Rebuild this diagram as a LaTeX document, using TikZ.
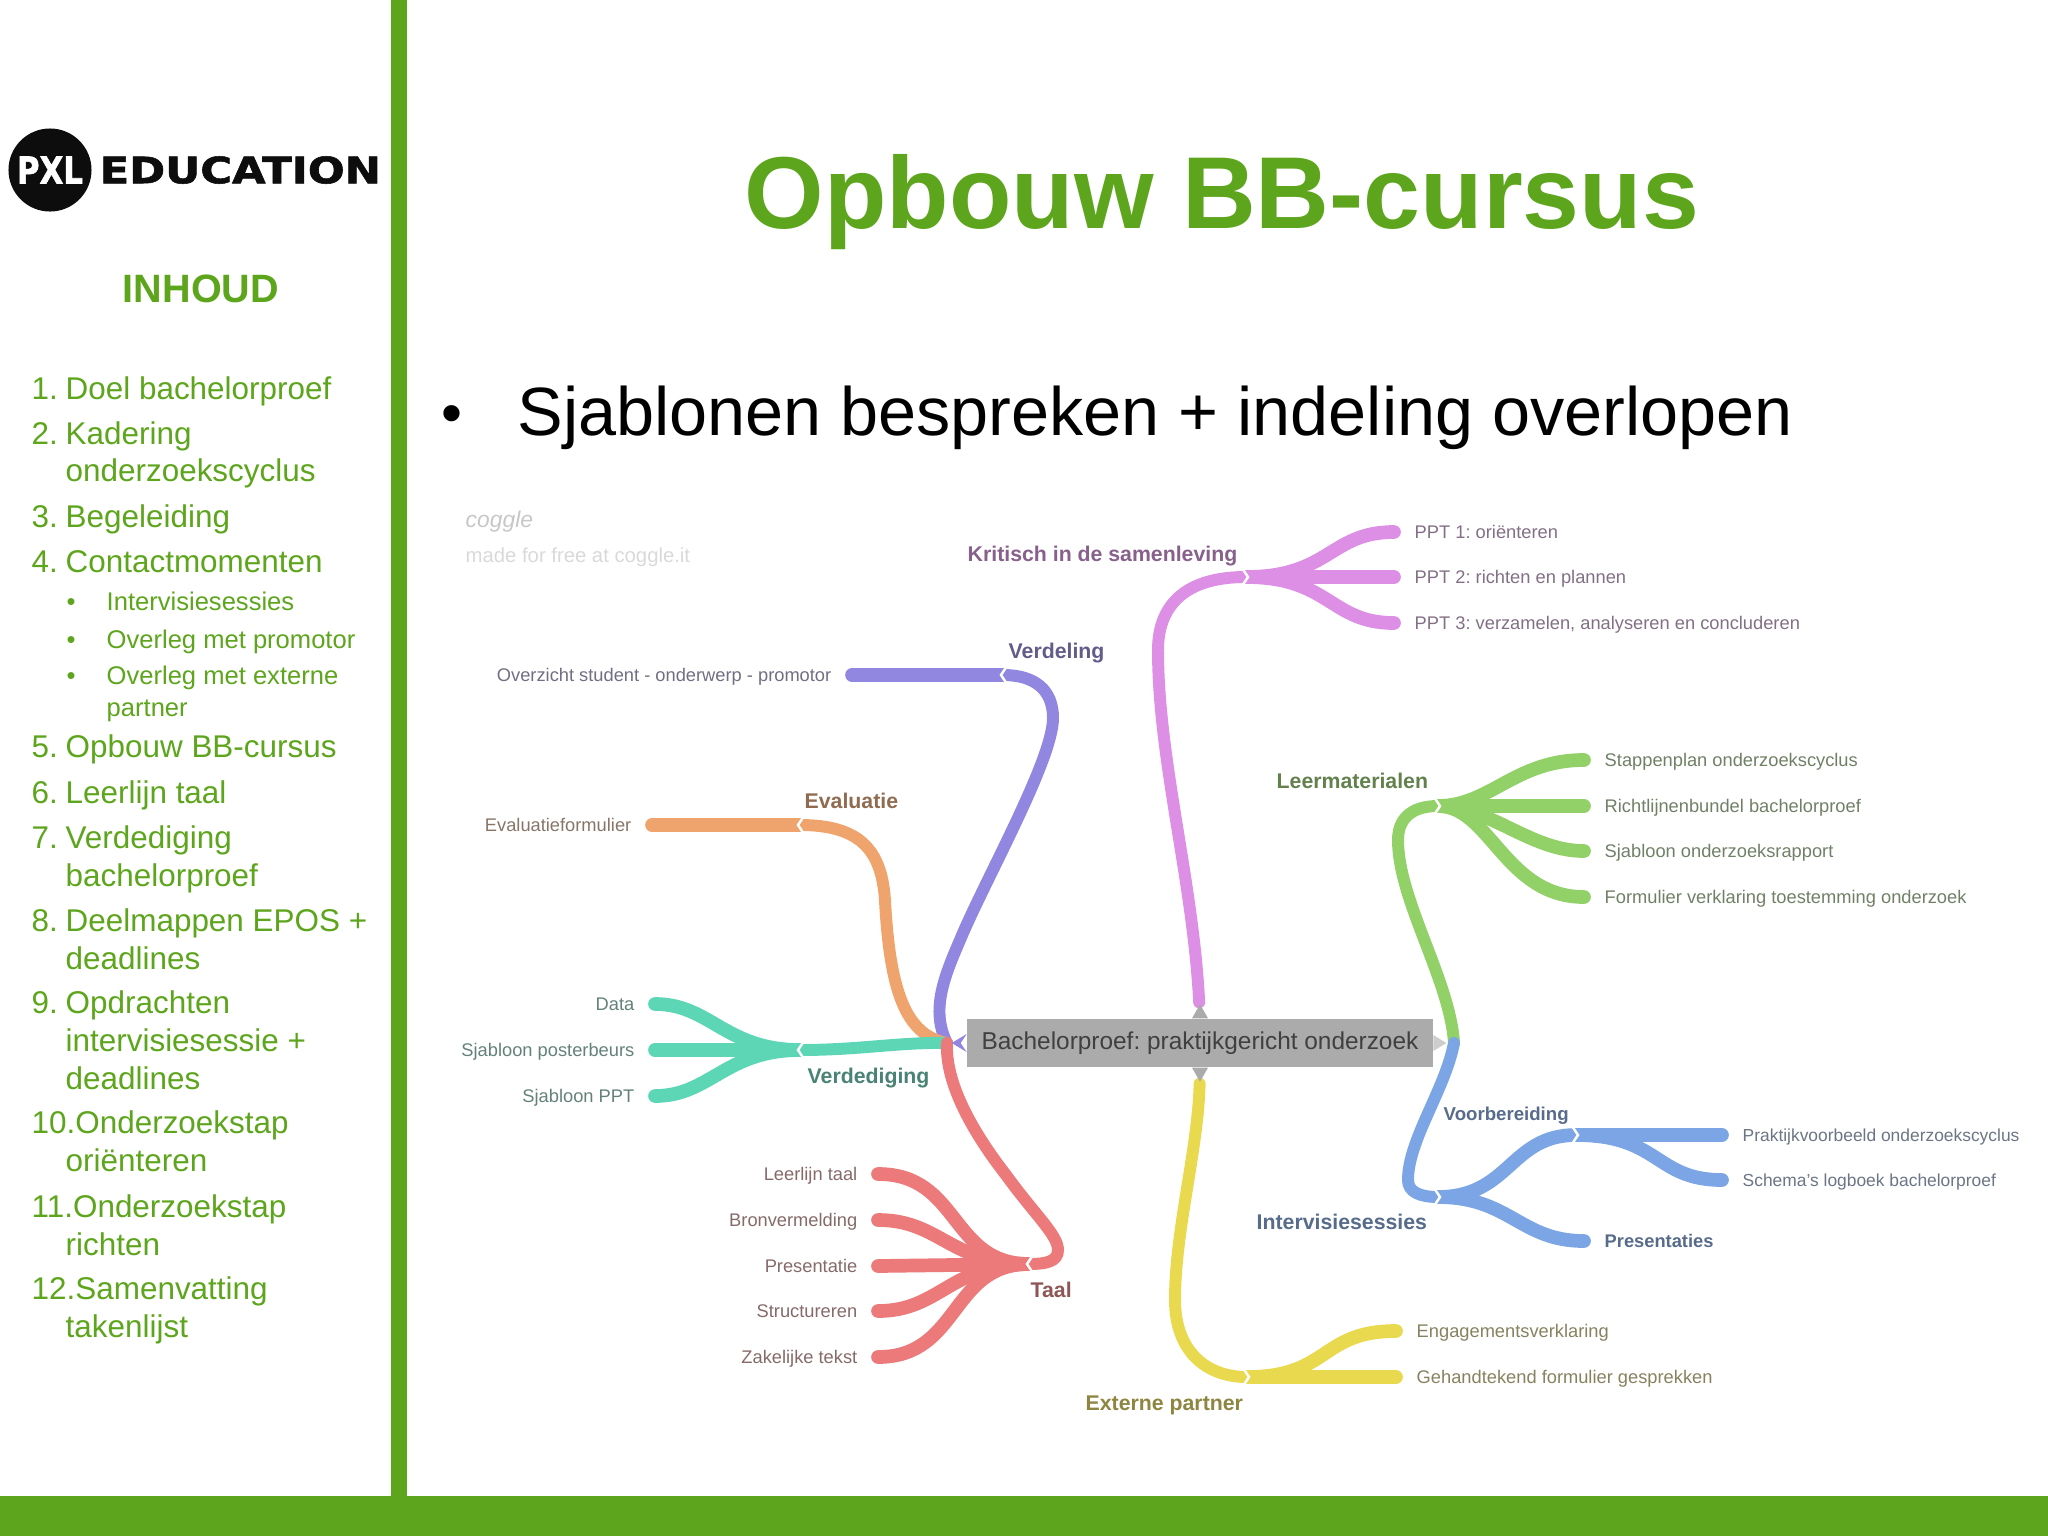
\documentclass[tikz,border=0pt]{standalone}
\usepackage{fontspec}
\setmainfont{Liberation Sans}
\definecolor{pxlgreen}{HTML}{5DA51C}
\definecolor{rootgray}{HTML}{ABABAB}
\definecolor{pinkb}{HTML}{DD8FE5}
\definecolor{violetb}{HTML}{9187E0}
\definecolor{orangeb}{HTML}{EFA46E}
\definecolor{tealb}{HTML}{5DD6B5}
\definecolor{redb}{HTML}{EC7A7A}
\definecolor{yellowb}{HTML}{E9D94E}
\definecolor{greenb}{HTML}{92D068}
\definecolor{blueb}{HTML}{7CA5E5}
\newcommand{\tocnr}[1]{\makebox[.34cm][l]{#1}}
\tikzset{
  branch/.style={line width=3.4pt, line cap=round, #1},
  twig/.style={line width=3.9pt, line cap=round, #1},
  lefttext/.style={anchor=east, inner xsep=.2cm, inner ysep=0pt, text height=.19cm, text depth=.07cm, font=\fontsize{5.2}{6}\selectfont, text=#1!35!black!70},
  righttext/.style={anchor=west, inner xsep=.2cm, inner ysep=0pt, text height=.19cm, text depth=.07cm, font=\fontsize{5.2}{6}\selectfont, text=#1!35!black!70},
  boldlabel/.style={inner sep=0pt, yshift=-.01cm, font=\fontsize{6.05}{7}\selectfont\bfseries, text=#1!55!black!90},
  tocitem/.style={anchor=mid west, inner sep=0pt, yshift=-.01cm, text=pxlgreen, font=\fontsize{8.94}{10}\selectfont},
  tocsub/.style={anchor=mid west, inner sep=0pt, text=pxlgreen, font=\fontsize{7.27}{8}\selectfont},
}
\begin{document}
\frenchspacing
\begin{tikzpicture}[x=.01cm, y=-.01cm]
  \useasboundingbox (0,0) rectangle (2048,1536);

  % side bar and logo
  \fill[pxlgreen] (391,0) rectangle (407,1496);
  \fill[pxlgreen] (0,1496) rectangle (2048,1536);
  \node[circle, fill=black!95, minimum size=.83cm, inner sep=0pt] (logo) at (50,170) {};
  \node[text=white, inner sep=0pt] (logopxl) at (50,170) {\resizebox{.66cm}{.27cm}{\fontspec[FakeBold=1.5]{DejaVu Sans Bold}PXL}};
  \node[anchor=west, inner sep=0pt, text=black!95] (logotext) at (99,170) {\resizebox{2.81cm}{.27cm}{\fontspec[FakeBold=1.5]{DejaVu Sans Bold}EDUCATION}};
  \node[inner sep=0pt, text=pxlgreen, font=\fontsize{11.25}{13}\selectfont\bfseries] (inhoud) at (201,289) {INHOUD};

  \foreach \xpos/\ypos/\itemtext in {31/389/{\tocnr{1.}Doel bachelorproef}, 31/434/{\tocnr{2.}Kadering}, 65/471/onderzoekscyclus,
      31/517/{\tocnr{3.}Begeleiding}, 31/562/{\tocnr{4.}Contactmomenten}, 31/747/{\tocnr{5.}Opbouw BB-cursus},
      31/793/{\tocnr{6.}Leerlijn taal}, 31/838/{\tocnr{7.}Verdediging}, 65/876/bachelorproef,
      31/921/{\tocnr{8.}Deelmappen EPOS +}, 65/959/deadlines, 31/1003/{\tocnr{9.}Opdrachten},
      65/1041/intervisiesessie +, 65/1079/deadlines, 31/1123/10.Onderzoekstap, 65/1161/oriënteren,
      31/1207/11.Onderzoekstap, 65/1245/richten, 31/1289/12.Samenvatting, 65/1327/takenlijst}
    \node[tocitem] (toc\ypos) at (\xpos,\ypos) {\itemtext};

  \foreach \ypos/\itemtext in {601/Intervisiesessies, 639/Overleg met promotor, 675/Overleg met externe}
    \node[tocsub] (sub\ypos) at (106,\ypos) {\itemtext};
  \foreach \ypos in {601,639,675}
    \node[tocsub] (dot\ypos) at (66,\ypos) {•};
  \node[tocsub] (sub707) at (106,707) {partner};

  % title and bullet
  \node[anchor=base, inner sep=0pt, text=pxlgreen, font=\fontsize{29.07}{34}\selectfont\bfseries] (title) at (1222,228) {Opbouw BB-cursus};
  \node[anchor=base west, inner sep=0pt, font=\fontsize{17}{22}\selectfont] (bullet) at (441,433) {•};
  \node[anchor=base west, inner sep=0pt, font=\fontsize{19.44}{23}\selectfont] (subtitle) at (517,435) {Sjablonen bespreken + indeling overlopen};

  \node[anchor=mid west, inner sep=0pt, text=black!22, font=\fontsize{6.5}{8}\selectfont\itshape] (coggle) at (465,518) {coggle};
  \node[anchor=mid west, inner sep=0pt, text=black!15, font=\fontsize{5.77}{7}\selectfont] (madefor) at (465,553) {made for free at coggle.it};

  % centre
  \node[fill=rootgray, text=black!75, minimum width=4.65cm, minimum height=.48cm, inner sep=0pt, font=\fontsize{6.94}{8}\selectfont] (root) at (1200,1043) {Bachelorproef: praktijkgericht onderzoek};
  \coordinate (rootL) at (947,1043);
  \coordinate (rootR) at (1454,1043);

  \coordinate (kritisch) at (1246,577);
  \coordinate (verdeling) at (1003,675);
  \coordinate (evaluatie) at (800,825);
  \coordinate (verdediging) at (800,1050);
  \coordinate (taal) at (1029,1264);
  \coordinate (externe) at (1247,1377);
  \coordinate (leer) at (1438,806);
  \coordinate (inter) at (1438,1197);
  \coordinate (voor) at (1576,1135);

  % kritisch in de samenleving
  \draw[branch=pinkb, shorten <=.16cm] (root.north) .. controls (1193,880) and (1158,760) .. (1158,650) .. controls (1158,610) and (1180,577) .. (kritisch);
  \node[boldlabel=pinkb, anchor=mid east] (kritischtxt) at (1238,551) {Kritisch in de samenleving};
  \node[righttext=pinkb] (ppt1) at (1394,532) {PPT 1: oriënteren};
  \node[righttext=pinkb] (ppt2) at (1394,577) {PPT 2: richten en plannen};
  \node[righttext=pinkb] (ppt3) at (1394,623) {PPT 3: verzamelen, analyseren en concluderen};
  \draw[twig=pinkb] (kritisch) .. controls (1330,577) and (1330,532) .. (ppt1.west);
  \draw[twig=pinkb] (kritisch) -- (ppt2.west);
  \draw[twig=pinkb] (kritisch) .. controls (1330,577) and (1330,623) .. (ppt3.west);

  % verdeling
  \draw[branch=violetb] (rootL) .. controls (930,1010) and (945,975) .. (960,940) .. controls (985,880) and (1053,760) .. (1053,718) .. controls (1053,690) and (1035,675) .. (verdeling);
  \node[boldlabel=violetb, anchor=mid west] (verdelingtxt) at (1008,648) {Verdeling};
  \node[lefttext=violetb] (overzicht) at (852,675) {Overzicht student - onderwerp - promotor};
  \draw[twig=violetb] (verdeling) -- (overzicht.east);

  % evaluatie
  \draw[branch=orangeb] (rootL) .. controls (905,1035) and (890,990) .. (885,901) .. controls (882,850) and (860,825) .. (evaluatie);
  \node[boldlabel=orangeb, anchor=mid west] (evaluatietxt) at (804,798) {Evaluatie};
  \node[lefttext=orangeb] (evalform) at (652,825) {Evaluatieformulier};
  \draw[twig=orangeb] (evaluatie) -- (evalform.east);

  % verdediging
  \draw[branch=tealb] (rootL) .. controls (900,1042) and (860,1050) .. (verdediging);
  \node[boldlabel=tealb, anchor=mid west] (verdedigingtxt) at (807,1073) {Verdediging};
  \node[lefttext=tealb] (data) at (655,1004) {Data};
  \node[lefttext=tealb] (posterbeurs) at (655,1050) {Sjabloon posterbeurs};
  \node[lefttext=tealb] (sjabppt) at (655,1096) {Sjabloon PPT};
  \draw[twig=tealb] (verdediging) .. controls (725,1050) and (710,1004) .. (data.east);
  \draw[twig=tealb] (verdediging) -- (posterbeurs.east);
  \draw[twig=tealb] (verdediging) .. controls (725,1050) and (710,1096) .. (sjabppt.east);

  % taal
  \draw[branch=redb] (rootL) .. controls (945,1085) and (975,1135) .. (1006,1175) .. controls (1035,1215) and (1058,1235) .. (1058,1250) .. controls (1058,1262) and (1045,1264) .. (taal);
  \node[boldlabel=redb, anchor=mid west] (taaltxt) at (1030,1287) {Taal};
  \node[lefttext=redb] (leerlijn) at (878,1174) {Leerlijn taal};
  \node[lefttext=redb] (bron) at (878,1220) {Bronvermelding};
  \node[lefttext=redb] (presentatie) at (878,1266) {Presentatie};
  \node[lefttext=redb] (structureren) at (878,1311) {Structureren};
  \node[lefttext=redb] (zakelijk) at (878,1357) {Zakelijke tekst};
  \draw[twig=redb] (taal) .. controls (950,1264) and (960,1174) .. (leerlijn.east);
  \draw[twig=redb] (taal) .. controls (950,1264) and (940,1220) .. (bron.east);
  \draw[twig=redb] (taal) -- (presentatie.east);
  \draw[twig=redb] (taal) .. controls (950,1264) and (940,1311) .. (structureren.east);
  \draw[twig=redb] (taal) .. controls (950,1264) and (960,1357) .. (zakelijk.east);

  % externe partner
  \draw[branch=yellowb, shorten <=.16cm] (root.south) .. controls (1198,1150) and (1175,1230) .. (1175,1300) .. controls (1175,1350) and (1205,1377) .. (externe);
  \node[boldlabel=yellowb, anchor=mid west] (externetxt) at (1085,1400) {Externe partner};
  \node[righttext=yellowb] (engagement) at (1396,1331) {Engagementsverklaring};
  \node[righttext=yellowb] (gehand) at (1396,1377) {Gehandtekend formulier gesprekken};
  \draw[twig=yellowb] (externe) .. controls (1330,1377) and (1320,1331) .. (engagement.west);
  \draw[twig=yellowb] (externe) -- (gehand.west);

  % leermaterialen
  \draw[branch=greenb] (rootR) .. controls (1450,980) and (1398,900) .. (1398,840) .. controls (1398,820) and (1410,806) .. (leer);
  \node[boldlabel=greenb, anchor=mid west] (leertxt) at (1276,778) {Leermaterialen};
  \node[righttext=greenb] (stappen) at (1584,760) {Stappenplan onderzoekscyclus};
  \node[righttext=greenb] (richtlijn) at (1584,806) {Richtlijnenbundel bachelorproef};
  \node[righttext=greenb] (sjabrapport) at (1584,851) {Sjabloon onderzoeksrapport};
  \node[righttext=greenb] (verklaring) at (1584,897) {Formulier verklaring toestemming onderzoek};
  \draw[twig=greenb] (leer) .. controls (1490,806) and (1515,760) .. (stappen.west);
  \draw[twig=greenb] (leer) -- (richtlijn.west);
  \draw[twig=greenb] (leer) .. controls (1490,806) and (1530,851) .. (sjabrapport.west);
  \draw[twig=greenb] (leer) .. controls (1490,806) and (1505,897) .. (verklaring.west);

  % intervisiesessies
  \draw[branch=blueb] (rootR) .. controls (1445,1090) and (1408,1140) .. (1408,1180) .. controls (1408,1192) and (1420,1197) .. (inter);
  \node[boldlabel=blueb, anchor=mid west] (intertxt) at (1256,1219) {Intervisiesessies};
  \node[boldlabel=blueb, anchor=mid west, font=\fontsize{5.3}{6}\selectfont\bfseries] (voortxt) at (1443,1110) {Voorbereiding};
  \node[righttext=blueb, font=\fontsize{5.2}{6}\selectfont\bfseries, text=blueb!55!black!90] (presentaties) at (1584,1241) {Presentaties};
  \node[righttext=blueb, font=\fontsize{4.95}{6}\selectfont] (praktijk) at (1722,1135) {Praktijkvoorbeeld onderzoekscyclus};
  \node[righttext=blueb, font=\fontsize{4.95}{6}\selectfont] (schema) at (1722,1180) {Schema's logboek bachelorproef};
  \draw[twig=blueb] (inter) .. controls (1510,1197) and (1510,1135) .. (voor);
  \draw[twig=blueb] (inter) .. controls (1510,1197) and (1520,1241) .. (presentaties.west);
  \draw[twig=blueb] (voor) -- (praktijk.west);
  \draw[twig=blueb] (voor) .. controls (1660,1135) and (1655,1180) .. (schema.west);

  % notches
  \foreach \j/\s in {kritisch/1, leer/1, inter/1, voor/1, externe/1, verdeling/-1, evaluatie/-1, verdediging/-1, taal/-1}
    \draw[white, line width=.7pt] ([shift={(-4*\s,-9)}]\j) -- ([shift={(2*\s,0)}]\j) -- ([shift={(-4*\s,9)}]\j);

  % tips on the centre box
  \fill[rootgray] (root.north) ++(-8,0) -- ++(8,-14) -- ++(8,14) -- cycle;
  \fill[rootgray] (root.south) ++(-8,0) -- ++(8,14) -- ++(8,-14) -- cycle;
  \fill[rootgray!60] (root.east) ++(0,-8) -- ++(13,8) -- ++(-13,8) -- cycle;
  \fill[violetb] (root.west) ++(0,-9) -- ++(-15,9) -- ++(15,9) -- ++(-6,-9) -- cycle;
\end{tikzpicture}
\end{document}
